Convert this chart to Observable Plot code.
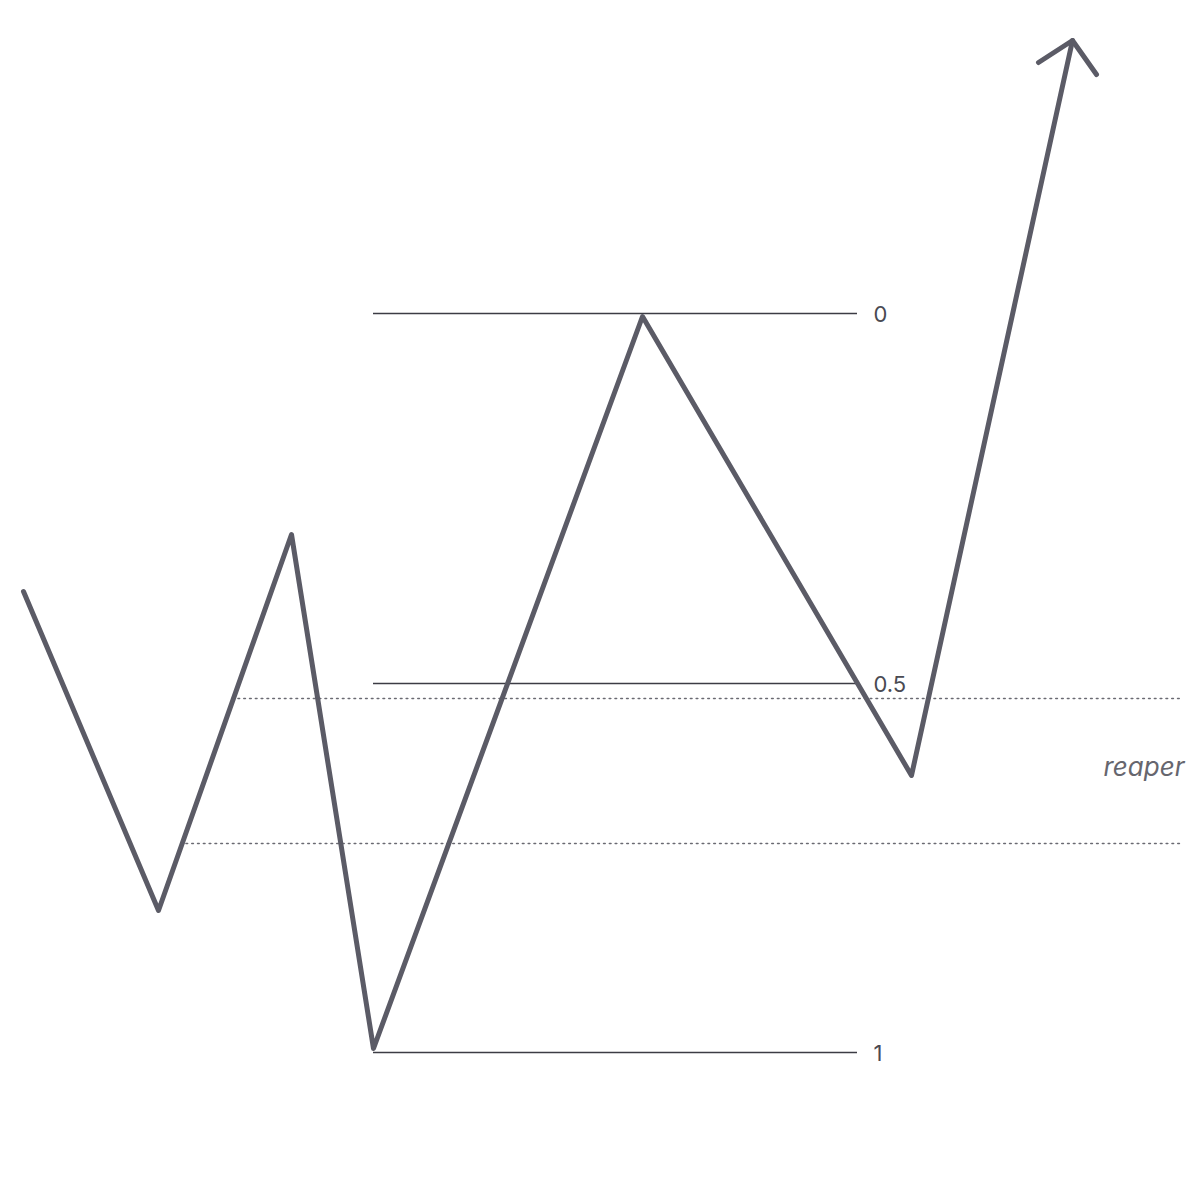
<!DOCTYPE html>
<html>
<head>
<meta charset="utf-8">
<script src="https://cdn.jsdelivr.net/npm/d3@7"></script>
<script src="https://cdn.jsdelivr.net/npm/@observablehq/plot@0.6"></script>
<style>
  html, body { margin: 0; padding: 0; background: #ffffff; }
  #chart svg { display: block; }
</style>
</head>
<body>
<div id="chart"></div>
<script>
// Zigzag price path (x, y in chart units; y grows downward)
const pathX = [23, 158, 291, 373, 642, 911, 1072];
const pathY = [591, 910, 534, 1048, 316, 775, 40];

// Arrow head arms at the end of the path
const arrowX = [1038, 1072, 1096];
const arrowY = [62, 40, 74];

// Fibonacci retracement levels
const levelLabels = ["0", "0.5", "1"];
const levelY = [313, 683, 1052];
const levelX1 = 373;
const levelX2 = 857;

// Dotted "reaper" zone bounds
const zoneY = [698, 843];
const zoneX1 = [238, 186];
const zoneX2 = 1180;
const zoneLabel = "reaper";
const zoneLabelX = 1184;
const zoneLabelY = 767;

const path = pathX.map((x, i) => ({x, y: pathY[i]}));
const arrow = arrowX.map((x, i) => ({x, y: arrowY[i]}));
const levels = levelLabels.map((label, i) => ({label, y: levelY[i], x1: levelX1, x2: levelX2}));
const zone = zoneY.map((y, i) => ({y, x1: zoneX1[i], x2: zoneX2}));

const chart = Plot.plot({
  width: 1200,
  height: 1200,
  margin: 0,
  x: {domain: [0, 1200], range: [0, 1200], axis: null},
  y: {domain: [0, 1200], range: [0, 1200], axis: null},
  style: {background: "#ffffff", fontFamily: "Inter, sans-serif"},
  marks: [
    Plot.ruleY(zone, {y: "y", x1: "x1", x2: "x2", stroke: "#6a6a72", strokeWidth: 1.6, strokeDasharray: "1.6,4.2", strokeLinecap: "round"}),
    Plot.ruleY(levels, {y: "y", x1: "x1", x2: "x2", stroke: "#3c3c44", strokeWidth: 1.6}),
    Plot.text(levels, {x: "x2", y: "y", text: "label", dx: 16, dy: 1, textAnchor: "start", fontSize: 22, fill: "#4a4a52"}),
    Plot.text([{x: zoneLabelX, y: zoneLabelY, label: zoneLabel}], {x: "x", y: "y", text: "label", textAnchor: "end", fontSize: 26, fontStyle: "italic", fill: "#66666e"}),
    Plot.line(path, {x: "x", y: "y", stroke: "#5b5b66", strokeWidth: 5, strokeLinecap: "round", strokeLinejoin: "round"}),
    Plot.line(arrow, {x: "x", y: "y", stroke: "#5b5b66", strokeWidth: 5, strokeLinecap: "round", strokeLinejoin: "round"})
  ]
});
document.getElementById("chart").appendChild(chart);
</script>
</body>
</html>
